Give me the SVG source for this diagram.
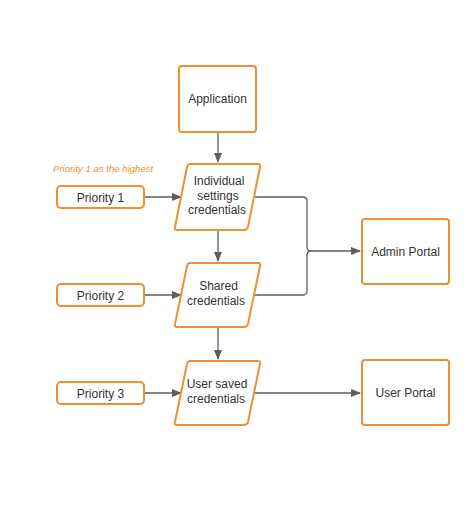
<svg xmlns="http://www.w3.org/2000/svg" width="474" height="512" viewBox="0 0 474 512">
<defs>
<marker id="arr" markerWidth="10" markerHeight="8" refX="9" refY="4" orient="auto" markerUnits="userSpaceOnUse">
<path d="M0,0 L10,4 L0,8 Z" fill="#5e5e5e"/>
</marker>
<style>
.node{fill:#ffffff;stroke:#ef8f2f;stroke-width:2}
.t{font-family:"Liberation Sans",Arial,sans-serif;font-size:12px;fill:#333333;text-anchor:middle}
.c{fill:none;stroke:#5e5e5e;stroke-width:1.3}
.note{font-family:"Liberation Sans",Arial,sans-serif;font-size:9.6px;font-style:italic;fill:#ef8f2f}
</style>
</defs>
<rect width="474" height="512" fill="#ffffff"/>
<g id="connectors">
<path class="c" d="M218,132 V162" marker-end="url(#arr)"/>
<path class="c" d="M218,230 V261" marker-end="url(#arr)"/>
<path class="c" d="M218,327 V359" marker-end="url(#arr)"/>
<path class="c" d="M144,197 H181" marker-end="url(#arr)"/>
<path class="c" d="M144,295 H181" marker-end="url(#arr)"/>
<path class="c" d="M144,393 H181" marker-end="url(#arr)"/>
<path class="c" d="M253,197 H303 Q307,197 307,201 V247 Q307,251 311,251 H360" marker-end="url(#arr)"/>
<path class="c" d="M252,295 H303 Q307,295 307,291 V255 Q307,251 311,251"/>
<path class="c" d="M253,393 H360" marker-end="url(#arr)"/>
</g>
<g id="application">
<rect class="node" x="179" y="66" width="77" height="66" rx="3"/>
<text class="t" x="217.5" y="103">Application</text>
</g>
<text class="note" x="53" y="172">Priority 1 as the highest</text>
<g id="priority1">
<rect class="node" x="57" y="186" width="87" height="22" rx="4"/>
<text class="t" x="100.5" y="201.5">Priority 1</text>
</g>
<g id="priority2">
<rect class="node" x="57" y="284" width="87" height="22" rx="4"/>
<text class="t" x="100.5" y="299.5">Priority 2</text>
</g>
<g id="priority3">
<rect class="node" x="57" y="382" width="87" height="22" rx="4"/>
<text class="t" x="100.5" y="397.5">Priority 3</text>
</g>
<g id="individual">
<path class="node" d="M190,164 H258 Q261,164 260,167 L248,227 Q247,230 244,230 H177 Q174,230 175,227 L187,167 Q188,164 190,164 Z"/>
<text class="t" x="219" y="185">Individual</text>
<text class="t" x="218" y="199.5">settings</text>
<text class="t" x="217" y="214">credentials</text>
</g>
<g id="shared">
<path class="node" d="M190,263 H258 Q261,263 260,266 L248,324 Q247,327 244,327 H177 Q174,327 175,324 L187,266 Q188,263 190,263 Z"/>
<text class="t" x="218.5" y="290">Shared</text>
<text class="t" x="216" y="305">credentials</text>
</g>
<g id="usersaved">
<path class="node" d="M190,361 H258 Q261,361 260,364 L248,422 Q247,425 244,425 H177 Q174,425 175,422 L187,364 Q188,361 190,361 Z"/>
<text class="t" x="217" y="388">User saved</text>
<text class="t" x="216" y="402.5">credentials</text>
</g>
<g id="admin">
<rect class="node" x="362" y="219" width="87" height="65" rx="3"/>
<text class="t" x="405.5" y="255.5">Admin Portal</text>
</g>
<g id="user">
<rect class="node" x="362" y="360" width="87" height="65" rx="3"/>
<text class="t" x="405.5" y="396.5">User Portal</text>
</g>
</svg>
